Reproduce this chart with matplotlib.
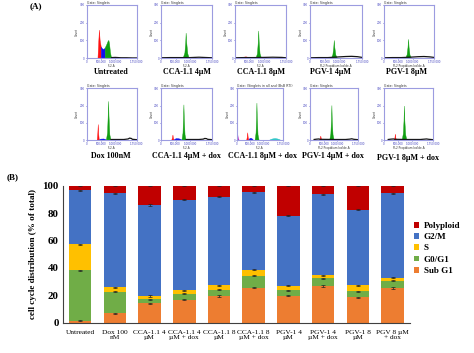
import matplotlib
matplotlib.use("Agg")
import matplotlib.pyplot as plt
import numpy as np

# ---------------- Panel B data (% of total) ----------------
categories = ["Untreated", "Dox 100\nnM", "CCA-1.1 4\nµM", "CCA-1.1 4\nµM + dox",
              "CCA-1.1 8\nµM", "CCA-1.1 8\nµM + dox", "PGV-1 4\nµM",
              "PGV-1 4\nµM + dox", "PGV-1 8\nµM", "PGV 8 µM\n+ dox"]
sub_g1 = [1.5, 6.8, 14.1, 16.8, 19.5, 25.5, 19.7, 26.8, 18.5, 25.3]
g0_g1 = [36.9, 15.7, 3.1, 4.2, 4.5, 8.7, 3.9, 5.5, 4.6, 5.4]
s_phase = [19.0, 3.4, 2.3, 2.6, 3.3, 4.5, 3.4, 2.2, 4.3, 2.2]
g2_m = [39.2, 68.5, 66.4, 66.3, 64.7, 56.4, 51.1, 59.4, 55.2, 61.5]
polyploid = [3.4, 5.6, 14.1, 10.1, 8.0, 4.9, 21.9, 6.1, 17.4, 5.6]
err = [0.4, 0.4, 0.4, 0.4, 0.4, 0.4, 0.4, 0.4, 0.4, 0.4]
series_names = ["Sub G1", "G0/G1", "S", "G2/M", "Polyploid"]

# ---------------- Panel A data (flow histograms, x in thousands, counts) ----------------
hist_titles = ["Untreated", "CCA-1.1 4µM", "CCA-1.1 8µM", "PGV-1 4µM", "PGV-1 8µM",
               "Dox 100nM", "CCA-1.1 4µM + dox", "CCA-1.1 8µM + dox",
               "PGV-1 4µM + dox", "PGV-1 8µM + dox"]
hist_untreated = {
    "red": ([395, 425, 445, 470, 510, 510], [0, 100, 158, 100, 62, 0]),
    "blue": ([510, 510, 540, 580, 620, 650, 650], [0, 62, 55, 50, 52, 58, 0]),
    "green": ([650, 650, 700, 750, 775, 800, 830, 870], [0, 58, 75, 95, 100, 80, 35, 0]),
    "black": ([870, 1000, 1200, 1400, 1600, 1750], [4, 5, 3, 3, 2, 2]),
}
hist_cca4 = {
    "blue": ([560, 600, 700, 760], [0, 3, 4, 0]),
    "green": ([760, 820, 850, 863, 880, 920, 970], [0, 30, 90, 141, 90, 25, 0]),
    "black": ([0, 300, 600, 1000, 1300, 1600, 1750], [3, 4, 4, 4, 6, 4, 3]),
}
hist_cca8 = {
    "red": ([300, 330, 380, 430, 460], [0, 7, 8, 6, 0]),
    "green": ([720, 770, 795, 813, 830, 860, 910], [0, 25, 80, 153, 90, 25, 0]),
    "black": ([0, 300, 600, 1000, 1300, 1600, 1750], [3, 4, 4, 5, 6, 5, 3]),
}
hist_pgv4 = {
    "red": ([300, 350, 420, 460], [0, 5, 5, 0]),
    "green": ([720, 770, 800, 817, 835, 870, 920], [0, 20, 60, 100, 60, 18, 0]),
    "black": ([0, 300, 600, 1000, 1200, 1400, 1600, 1750], [3, 4, 4, 8, 10, 11, 9, 5]),
}
hist_pgv8 = {
    "red": ([300, 350, 420, 460], [0, 5, 5, 0]),
    "green": ([760, 810, 840, 860, 878, 910, 960], [0, 20, 60, 106, 60, 18, 0]),
    "black": ([0, 300, 600, 1000, 1200, 1400, 1600, 1750], [3, 4, 4, 7, 9, 10, 8, 5]),
}
hist_dox = {
    "red": ([370, 390, 405, 420, 440], [0, 40, 90, 35, 0]),
    "blue": ([440, 500, 600, 690], [0, 5, 6, 0]),
    "green": ([690, 730, 750, 766, 780, 810, 850], [0, 40, 130, 224, 140, 30, 0]),
    "black": ([850, 1000, 1300, 1450, 1500, 1560, 1600, 1750], [3, 3, 3, 6, 11, 9, 4, 2]),
}
hist_cca4_dox = {
    "red": ([370, 395, 410, 425, 450], [0, 12, 29, 10, 0]),
    "blue": ([450, 520, 620, 720], [0, 8, 7, 0]),
    "green": ([720, 755, 772, 786, 800, 825, 860], [0, 40, 120, 204, 120, 30, 0]),
    "black": ([860, 1000, 1300, 1450, 1500, 1560, 1600, 1750], [3, 3, 3, 5, 9, 8, 4, 2]),
}
hist_cca8_dox = {
    "magenta": ([0, 0, 20, 50, 80], [0, 70, 40, 10, 0]),
    "red": ([370, 390, 408, 425, 445], [0, 15, 42, 15, 0]),
    "blue": ([450, 500, 560, 620], [0, 10, 9, 0]),
    "green": ([690, 725, 745, 758, 772, 800, 840], [0, 40, 120, 214, 130, 30, 0]),
    "cyan": ([1250, 1350, 1450, 1550, 1650], [0, 6, 9, 6, 0]),
}
hist_pgv4_dox = {
    "red": ([360, 380, 393, 408, 430], [0, 10, 23, 10, 0]),
    "green": ([720, 760, 783, 798, 812, 840, 880], [0, 35, 110, 200, 110, 30, 0]),
    "black": ([150, 250, 330, 360, 880, 1300, 1450, 1520, 1600, 1750],
              [3, 5, 6, 4, 3, 3, 5, 7, 4, 2]),
}
hist_pgv8_dox = {
    "red": ([370, 392, 408, 422, 445], [0, 14, 34, 12, 0]),
    "green": ([650, 690, 715, 730, 745, 775, 815], [0, 35, 110, 197, 110, 30, 0]),
    "black": ([150, 250, 340, 380, 815, 1300, 1450, 1520, 1600, 1750],
              [3, 5, 6, 4, 3, 3, 5, 6, 4, 2]),
}
hist_data = [hist_untreated, hist_cca4, hist_cca8, hist_pgv4, hist_pgv8,
             hist_dox, hist_cca4_dox, hist_cca8_dox, hist_pgv4_dox, hist_pgv8_dox]
gate_names = ["Gate: Singlets"] * 7 + ["Gate: (Singlets in all and (BsB RT))"] + ["Gate: Singlets"] * 2
xaxis_names = ["FL2-A", "FL2-A", "FL2-A", "FL2 Propidium Iodide-A", "FL2 Propidium Iodide-A",
               "FL2-A", "FL2-A", "FL2-A", "FL2 Propidium Iodide-A", "FL2 Propidium Iodide-A"]
hist_xticks = [0, 500, 1000, 1750]
hist_xticklabels = ["0", "500,000", "1,000,000", "1,750,000"]
hist_yticks = [0, 100, 200, 300]
hist_yticklabels = ["0", "100", "200", "300"]

# ---------------- styling / layout ----------------
W, H = 474, 353
fig = plt.figure(figsize=(W / 100, H / 100), dpi=100)
SERIF = ["Liberation Serif", "DejaVu Serif"]


def px_axes(left, top, width, height):
    return fig.add_axes([left / W, 1 - (top + height) / H, width / W, height / H])


hist_colors = {"red": "#ff1010", "blue": "#1010ee", "green": "#12a012",
               "black": "#111111", "magenta": "#c020c0", "cyan": "#30c8c8"}
frame_col = "#9c9ce0"
tick_col = "#4646c0"

hist_boxes = [
    (86.7, 4.7, 50, 53.6), (161, 4.7, 51, 53.6), (235, 4.7, 51, 53.6),
    (310, 4.7, 52, 53.6), (384, 4.7, 50, 53.6),
    (86.7, 88.3, 50, 51.7), (161, 88.3, 51, 51.7), (237, 88.3, 46, 51.7),
    (310, 88.3, 48, 51.7), (384, 88.3, 49, 51.7),
]
label_pos = [(111.7, 72.5), (186.7, 72.5), (261, 72.5), (330, 72.5), (406, 72.5),
             (111, 156.5), (186, 156.5), (262, 156.5), (333, 156.5), (408, 157.5)]

for i, data in enumerate(hist_data):
    ax = px_axes(*hist_boxes[i])
    for key, (xs, ys) in data.items():
        if key == "black":
            ax.plot(xs, ys, color=hist_colors[key], lw=0.9)
        else:
            ax.fill(xs, ys, color=hist_colors[key], lw=0.3, ec=hist_colors[key])
    ax.set_xlim(0, 1750)
    ax.set_ylim(0, 300)
    ax.set_xticks(hist_xticks)
    ax.set_xticklabels(hist_xticklabels)
    ax.set_yticks(hist_yticks)
    ax.set_yticklabels(hist_yticklabels)
    ax.tick_params(colors=tick_col, labelsize=2.0, length=1.0, width=0.5, pad=0.4)
    for sp in ax.spines.values():
        sp.set_color(frame_col)
        sp.set_linewidth(0.8)
    ax.set_xlabel(xaxis_names[i], fontsize=2.0, labelpad=0.1, color="#333333")
    ax.set_ylabel("Count", fontsize=2.0, labelpad=0.4, color="#333333")
    ax.set_title(gate_names[i], fontsize=2.3, loc="left", pad=0.6, color="#333333")
    fig.text(label_pos[i][0] / W, 1 - label_pos[i][1] / H, hist_titles[i],
             ha="center", va="center", fontsize=5.8, fontweight="bold", family=SERIF)

fig.text(36 / W, 1 - 6 / H, "(A)", ha="center", va="center",
         fontsize=6.5, fontweight="bold", family=SERIF)
fig.text(13 / W, 1 - 177 / H, "(B)", ha="center", va="center",
         fontsize=6.5, fontweight="bold", family=SERIF)

# ---------------- Panel B ----------------
axb = px_axes(62.7, 185.7, 347.3, 137)
bar_colors = ["#ed7d31", "#70ad47", "#ffc000", "#4472c4", "#c00000"]
series = [sub_g1, g0_g1, s_phase, g2_m, polyploid]
x = np.arange(len(categories))
bottom = np.zeros(len(categories))
handles = []
for vals, col, name in zip(series, bar_colors, series_names):
    h = axb.bar(x, vals, 0.65, bottom=bottom, color=col, label=name, zorder=2)
    handles.append(h)
    tops = bottom + np.array(vals)
    axb.errorbar(x, tops, yerr=err, fmt="none", ecolor="#222222",
                 elinewidth=0.5, capsize=1.3, capthick=0.5, zorder=3)
    bottom = tops

axb.set_xlim(-0.5, len(categories) - 0.5)
axb.set_ylim(0, 100)
axb.set_yticks([0, 20, 40, 60, 80, 100])
axb.set_xticks(x)
axb.set_xticklabels(categories, fontsize=5.3, family=SERIF, linespacing=1.2)
for lab in axb.get_yticklabels():
    lab.set_fontweight("bold")
    lab.set_family(SERIF)
    lab.set_fontsize(7.8)
axb.tick_params(axis="x", length=0, pad=5)
axb.tick_params(axis="y", length=0, pad=3)
axb.spines["top"].set_visible(False)
axb.spines["right"].set_visible(False)
axb.spines["left"].set_color("#404040")
axb.spines["bottom"].set_color("#404040")
axb.spines["left"].set_linewidth(0.8)
axb.spines["bottom"].set_linewidth(0.8)
axb.set_ylabel("cell cycle distribution (% of total)", fontsize=6.6,
               fontweight="bold", family=SERIF, labelpad=4)

leg = axb.legend(handles[::-1], series_names[::-1], loc="upper left",
                 bbox_to_anchor=(414 / W, 1 - 222 / H), bbox_transform=fig.transFigure,
                 frameon=False, prop={"family": SERIF, "weight": "bold", "size": 6.5},
                 handlelength=0.6, handleheight=0.6, handletextpad=0.5,
                 labelspacing=0.35, borderpad=0, borderaxespad=0)

fig.savefig("out.png", dpi=100)
